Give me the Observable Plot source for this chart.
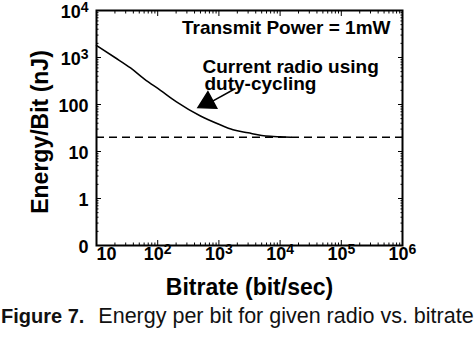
<!DOCTYPE html>
<html>
<head>
<meta charset="utf-8">
<script src="https://cdn.jsdelivr.net/npm/d3@7"></script>
<script src="https://cdn.jsdelivr.net/npm/@observablehq/plot@0.6"></script>
<style>
  html, body { margin: 0; padding: 0; background: #fff; }
  body { width: 474px; height: 351px; overflow: hidden; font-family: "Liberation Sans", Arial, sans-serif; }
  #caption { white-space: nowrap; font-size: 21.5px; line-height: 20px; margin-top: 6px; margin-left: 1px; color: #111; }
  #caption b { font-size: 20px; margin-right: 14px; }
</style>
</head>
<body>
<div id="chart"></div>
<div id="caption"><b>Figure 7.</b>Energy per bit for given radio vs. bitrate</div>
<script>
// Tick values and labels
const xTicks = [10, 100, 1e3, 1e4, 1e5, 1e6];
const xTickLabels = ["10", "10²", "10³", "10⁴", "10⁵", "10⁶"];
const yTicks = [0.1, 1, 10, 100, 1000, 10000];
const yTickLabels = ["0", "1", "10", "100", "10³", "10⁴"];

// Series: current radio using duty-cycling
const bitrate = [10, 20, 36, 60, 111, 200, 500, 1000, 1700, 3000, 5000, 7000, 10000, 15000];
const energy  = [1800, 1000, 600, 350, 200, 115, 57, 38, 29, 25, 22, 21, 20.5, 20];

// Dashed reference level
const dutyLevel = [20];

// Minor ticks for each decade
const decades = [0.1, 1, 10, 100, 1000, 10000, 100000];
const multipliers = [2, 3, 4, 5, 6, 7, 8, 9];
const minorY = decades.flatMap(d => multipliers.map(m => d * m)).filter(v => v > 0.1 && v < 10000);
const minorX = decades.flatMap(d => multipliers.map(m => d * m)).filter(v => v > 10 && v < 1e6);

const curve = bitrate.map((b, i) => ({b, e: energy[i]}));
const ylab = d => yTickLabels[yTicks.indexOf(d)];
const xlab = d => xTickLabels[xTicks.indexOf(d)];

const chart = Plot.plot({
  width: 474,
  height: 300,
  marginLeft: 96,
  marginRight: 72,
  marginTop: 10,
  marginBottom: 55,
  style: {fontFamily: "Liberation Sans, Arial, sans-serif", color: "#000", background: "#fff"},
  x: {type: "log", domain: [10, 1e6]},
  y: {type: "log", domain: [0.1, 1e4]},
  marks: [
    // tick labels
    Plot.axisY(yTicks, {tickSize: 0, tickPadding: 8, tickFormat: ylab, fontSize: 18, fontWeight: "bold", dy: 2, label: null}),
    Plot.axisX(xTicks.slice(1), {tickSize: 0, tickPadding: 2, tickFormat: xlab, fontSize: 18, fontWeight: "bold", label: null}),
    Plot.axisX(xTicks.slice(0, 1), {tickSize: 0, tickPadding: 2, tickFormat: xlab, fontSize: 18, fontWeight: "bold", textAnchor: "start", label: null}),
    // inward tick marks
    Plot.axisY(yTicks, {tickSize: -5, tickFormat: () => "", label: null}),
    Plot.axisY(minorY, {tickSize: -2.5, tickFormat: () => "", label: null}),
    Plot.axisY(yTicks, {anchor: "right", tickSize: -5, tickFormat: () => "", label: null}),
    Plot.axisY(minorY, {anchor: "right", tickSize: -2.5, tickFormat: () => "", label: null}),
    Plot.axisX(xTicks, {tickSize: -5, tickFormat: () => "", label: null}),
    Plot.axisX(minorX, {tickSize: -2.5, tickFormat: () => "", label: null}),
    Plot.axisX(xTicks, {anchor: "top", tickSize: -5, tickFormat: () => "", label: null}),
    Plot.axisX(minorX, {anchor: "top", tickSize: -2.5, tickFormat: () => "", label: null}),
    Plot.frame({strokeWidth: 2}),
    // dashed level
    Plot.ruleY(dutyLevel, {strokeDasharray: "8,5", strokeWidth: 1.5}),
    // curve
    Plot.line(curve, {x: "b", y: "e", curve: "monotone-x", strokeWidth: 1.5}),
    // arrow
    Plot.link([0], {x1: 1866, y1: 219, x2: 700, y2: 108, strokeWidth: 1.5}),
    Plot.dot([0], {x: 652, y: 110, symbol: "triangle", r: 7, fill: "black", stroke: "black", rotate: -118}),
    // annotations
    Plot.text(["Transmit Power = 1mW"], {frameAnchor: "top-right", dx: -12, dy: 10, textAnchor: "end", lineAnchor: "top", fontSize: 19, fontWeight: "bold"}),
    Plot.text(["Current radio using"], {frameAnchor: "top-left", dx: 106, dy: 62, textAnchor: "start", lineAnchor: "bottom", fontSize: 19, fontWeight: "bold"}),
    Plot.text(["duty-cycling"], {frameAnchor: "top-left", dx: 108, dy: 79, textAnchor: "start", lineAnchor: "bottom", fontSize: 19, fontWeight: "bold"}),
    // axis titles
    Plot.text(["Energy/Bit (nJ)"], {frameAnchor: "left", dx: -56, dy: 4, rotate: -90, textAnchor: "middle", lineAnchor: "middle", fontSize: 23, fontWeight: "bold"}),
    Plot.text(["Bitrate (bit/sec)"], {frameAnchor: "bottom", dy: 42, textAnchor: "middle", lineAnchor: "middle", fontSize: 23, fontWeight: "bold"})
  ]
});
document.getElementById("chart").appendChild(chart);

// Render power-of-ten labels with real superscripts
const supMap = {"²": "2", "³": "3", "⁴": "4", "⁵": "5", "⁶": "6"};
d3.select(chart).selectAll("text").each(function() {
  const t = this.textContent;
  const m = /^10([²³⁴⁵⁶])$/.exec(t);
  if (!m) return;
  const sel = d3.select(this);
  sel.text("10");
  sel.append("tspan").attr("dy", "-0.45em").attr("font-size", "14px").text(supMap[m[1]]);
});
</script>
</body>
</html>
